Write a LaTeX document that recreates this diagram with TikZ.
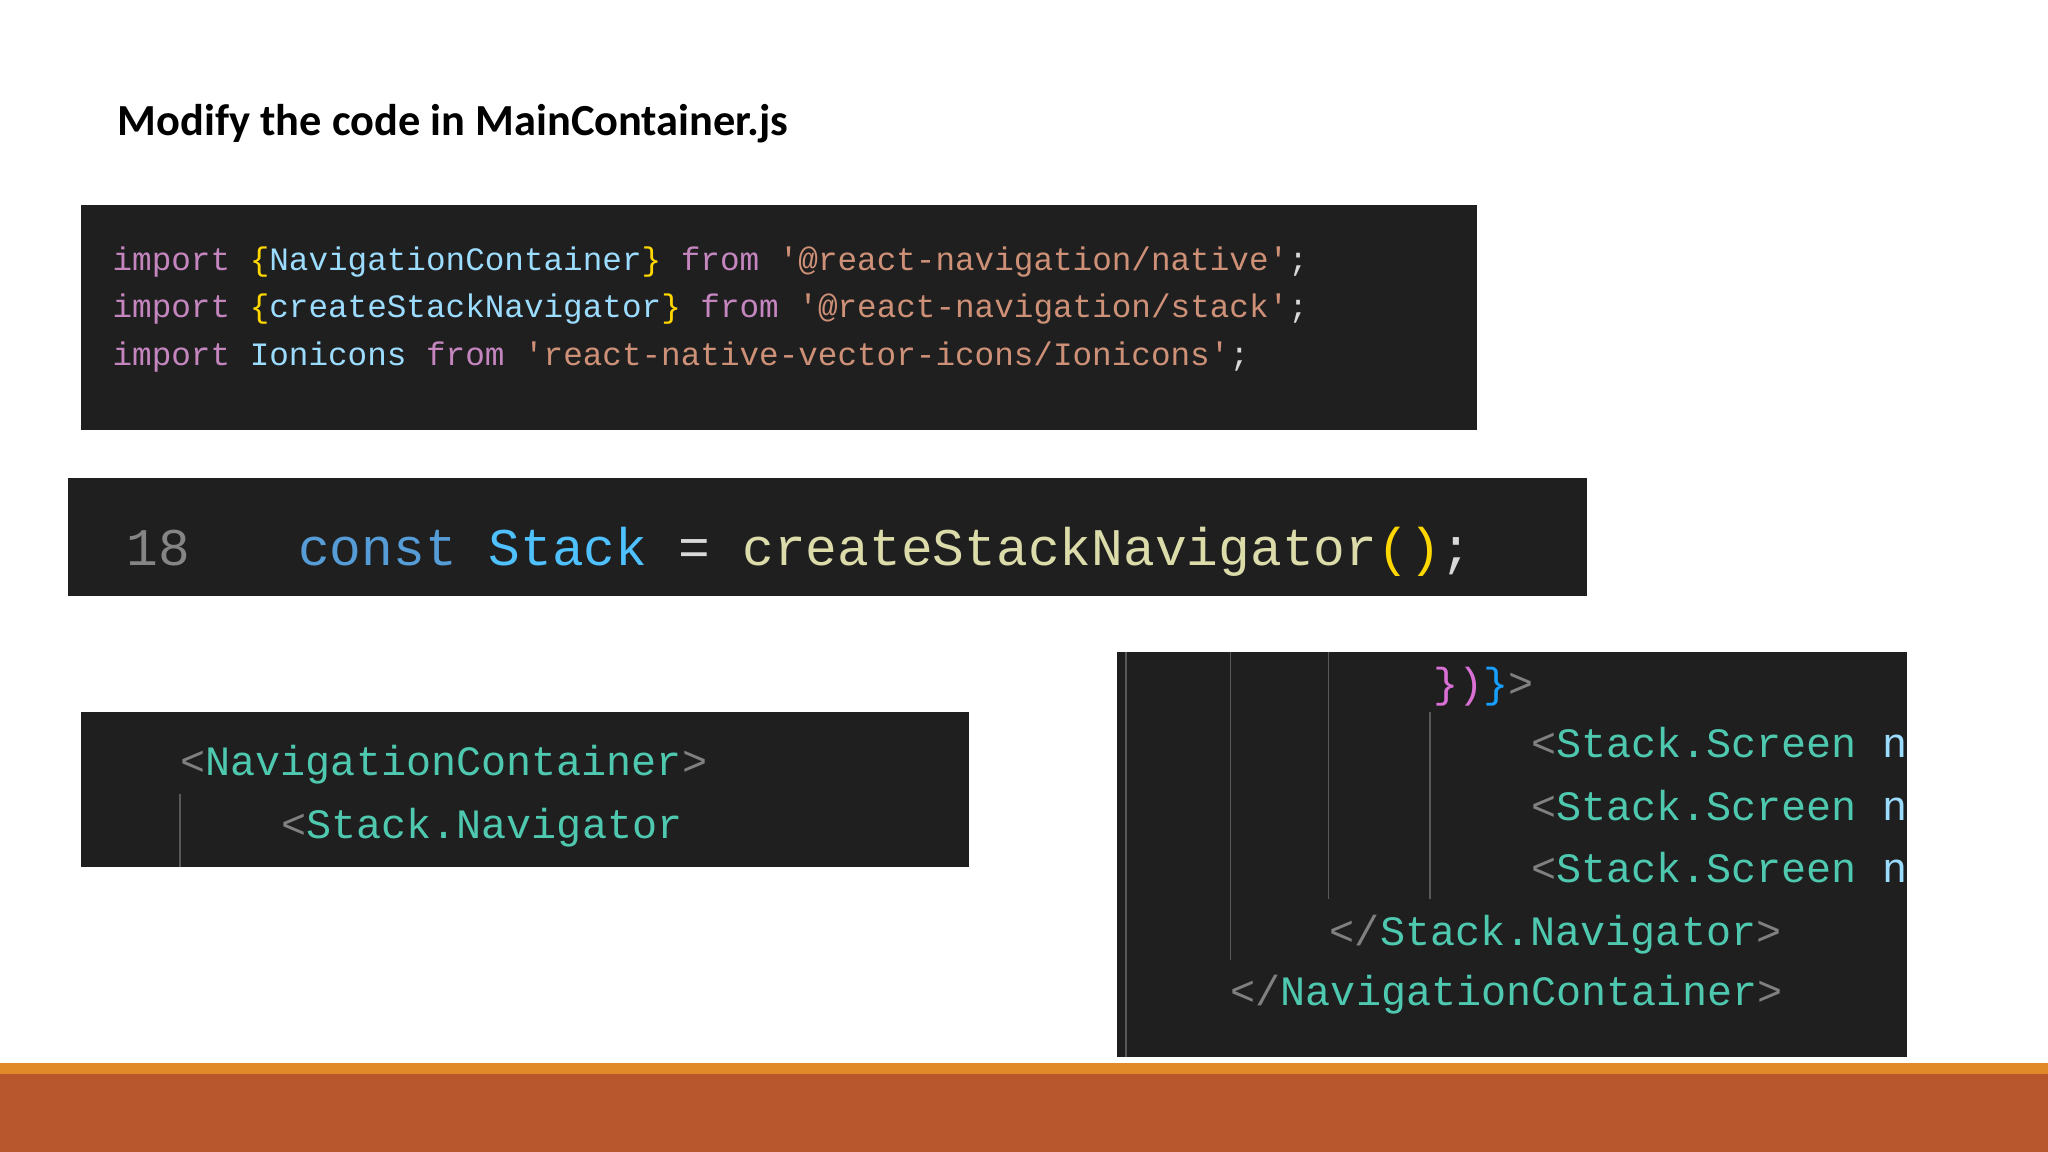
\documentclass[tikz,border=0pt]{standalone}
\usepackage{fontspec}
\setmainfont{Carlito}
\newfontfamily\codefont{Liberation Mono}
\definecolor{bg}{HTML}{1F1F1F}
\definecolor{kw}{HTML}{C586C0}
\definecolor{br}{HTML}{FFD700}
\definecolor{id}{HTML}{9CDCFE}
\definecolor{st}{HTML}{CE9178}
\definecolor{cb}{HTML}{569CD6}
\definecolor{cl}{HTML}{4FC1FF}
\definecolor{fn}{HTML}{DCDCAA}
\definecolor{tg}{HTML}{4EC9B0}
\definecolor{gr}{HTML}{808080}
\definecolor{ln}{HTML}{858585}
\definecolor{pk}{HTML}{DA70D6}
\definecolor{bl}{HTML}{179FFF}
\definecolor{orl}{HTML}{E08A2A}
\definecolor{orb}{HTML}{B8562E}
\tikzset{x=1pt,y=-1pt,
 code/.style={anchor=base west,inner sep=0pt,font=\codefont\fontsize{25}{25}\selectfont,text=white!85!black},
 bigcode/.style={code,font=\codefont\fontsize{40.5}{40}\selectfont},
 midcode/.style={code,font=\codefont\fontsize{32}{32}\selectfont},
 guide/.style={draw=white!35!black,line width=1.2pt}}
\begin{document}
\begin{tikzpicture}
\useasboundingbox (0,0) rectangle (1568,882);
\fill[white] (0,0) rectangle (1568,882);
\node[anchor=base west,inner sep=0pt,font=\bfseries\fontsize{34}{34}\selectfont] (title) at (90,104) {Modify the code in MainContainer.js};
% box 1
\fill[bg] (62,157) rectangle (1131,329);
\node[code] (l1) at (86,207) {\textcolor{kw}{import} \textcolor{br}{\{}\textcolor{id}{NavigationContainer}\textcolor{br}{\}} \textcolor{kw}{from} \textcolor{st}{'@react-navigation/native'};};
\node[code] (l2) at (86,243) {\textcolor{kw}{import} \textcolor{br}{\{}\textcolor{id}{createStackNavigator}\textcolor{br}{\}} \textcolor{kw}{from} \textcolor{st}{'@react-navigation/stack'};};
\node[code] (l3) at (86,280) {\textcolor{kw}{import} \textcolor{id}{Ionicons} \textcolor{kw}{from} \textcolor{st}{'react-native-vector-icons/Ionicons'};};
% box 2
\fill[bg] (52,366) rectangle (1215,456);
\node[bigcode,text=ln] (n18) at (97,433) {18};
\node[bigcode] (l4) at (228,433) {\textcolor{cb}{const} \textcolor{cl}{Stack} = \textcolor{fn}{createStackNavigator}\textcolor{br}{()};};
% box 3
\fill[bg] (62,545) rectangle (742,664);
\draw[guide] (138,608) -- (138,664);
\node[midcode] (l5) at (138,594) {\textcolor{gr}{<}\textcolor{tg}{NavigationContainer}\textcolor{gr}{>}};
\node[midcode] (l6) at (215,642) {\textcolor{gr}{<}\textcolor{tg}{Stack.Navigator}};
% box 4
\fill[bg] (855,499) rectangle (1460,809);
\draw[guide] (862,499) -- (862,809);
\draw[guide] (942,499) -- (942,735);
\draw[guide] (1017,499) -- (1017,688);
\draw[guide] (1095,545) -- (1095,688);
\begin{scope}
\clip (855,499) rectangle (1460,809);
\node[midcode] (l7) at (1097,534) {\textcolor{pk}{\})}\textcolor{bl}{\}}\textcolor{gr}{>}};
\node[midcode] (s1) at (1172,580) {\textcolor{gr}{<}\textcolor{tg}{Stack.Screen} \textcolor{id}{n}};
\node[midcode] (s2) at (1172,628) {\textcolor{gr}{<}\textcolor{tg}{Stack.Screen} \textcolor{id}{n}};
\node[midcode] (s3) at (1172,676) {\textcolor{gr}{<}\textcolor{tg}{Stack.Screen} \textcolor{id}{n}};
\node[midcode] (l8) at (1018,724) {\textcolor{gr}{</}\textcolor{tg}{Stack.Navigator}\textcolor{gr}{>}};
\node[midcode] (l9) at (942,770) {\textcolor{gr}{</}\textcolor{tg}{NavigationContainer}\textcolor{gr}{>}};
\end{scope}
% footer
\fill[orl] (0,814) rectangle (1568,822);
\fill[orb] (0,822) rectangle (1568,882);
\end{tikzpicture}
\end{document}
